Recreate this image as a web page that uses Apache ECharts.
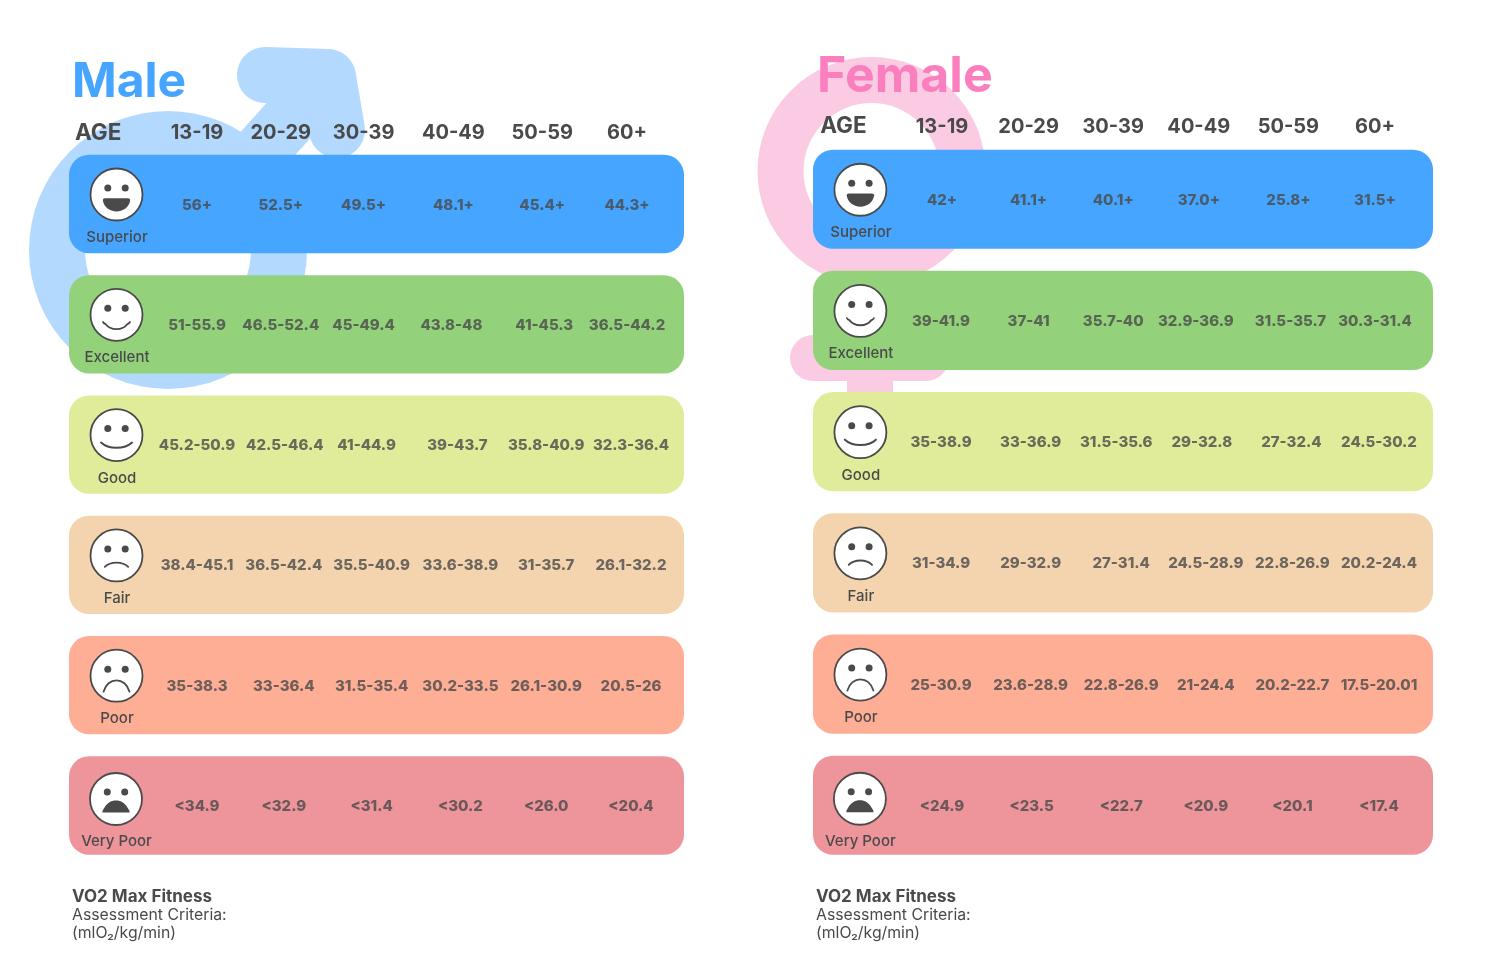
<!DOCTYPE html>
<html>
<head>
<meta charset="utf-8">
<title>VO2 Max Fitness</title>
<style>
  html, body { margin: 0; padding: 0; background: #fff; }
  #chart { width: 1500px; height: 974px; }
</style>
<script src="https://cdn.jsdelivr.net/npm/echarts@6/dist/echarts.min.js"></script>
</head>
<body>
<div id="chart"></div>
<script>
const ages = ["AGE", "13-19", "20-29", "30-39", "40-49", "50-59", "60+"];
const ratings = ["Superior", "Excellent", "Good", "Fair", "Poor", "Very Poor"];
const ratingColors = ["#46a5ff", "#93d27b", "#e0ec99", "#f4d4ae", "#ffae96", "#ee959b"];

const maleSuperior = ["56+", "52.5+", "49.5+", "48.1+", "45.4+", "44.3+"];
const maleExcellent = ["51-55.9", "46.5-52.4", "45-49.4", "43.8-48", "41-45.3", "36.5-44.2"];
const maleGood = ["45.2-50.9", "42.5-46.4", "41-44.9", "39-43.7", "35.8-40.9", "32.3-36.4"];
const maleFair = ["38.4-45.1", "36.5-42.4", "35.5-40.9", "33.6-38.9", "31-35.7", "26.1-32.2"];
const malePoor = ["35-38.3", "33-36.4", "31.5-35.4", "30.2-33.5", "26.1-30.9", "20.5-26"];
const maleVeryPoor = ["<34.9", "<32.9", "<31.4", "<30.2", "<26.0", "<20.4"];

const femaleSuperior = ["42+", "41.1+", "40.1+", "37.0+", "25.8+", "31.5+"];
const femaleExcellent = ["39-41.9", "37-41", "35.7-40", "32.9-36.9", "31.5-35.7", "30.3-31.4"];
const femaleGood = ["35-38.9", "33-36.9", "31.5-35.6", "29-32.8", "27-32.4", "24.5-30.2"];
const femaleFair = ["31-34.9", "29-32.9", "27-31.4", "24.5-28.9", "22.8-26.9", "20.2-24.4"];
const femalePoor = ["25-30.9", "23.6-28.9", "22.8-26.9", "21-24.4", "20.2-22.7", "17.5-20.01"];
const femaleVeryPoor = ["<24.9", "<23.5", "<22.7", "<20.9", "<20.1", "<17.4"];

const INK = "#4a4a4a";
const FONT = "Inter, 'Noto Sans', sans-serif";

// the reference columns are hand placed, so labels get a small px shift from the band centre
const panels = [
  {
    rows: [maleSuperior, maleExcellent, maleGood, maleFair, malePoor, maleVeryPoor],
    grid: { left: 66.8, top: 143.85, width: 607.6, height: 721.8 },
    barLeft: 2.2, barRight: 9.6, faceDx: 6.3, headMargin: 1,
    headShift: [-12, 0, -3, -7, -4, -2, -4],
    cellShift: [
      [0, -3, -7, -4, -2, -4],
      [0, -3, -7, -6, 0, -4],
      [0, 1, -4, 0, 2, 0],
      [0, 0, 1, 3, 2, 0],
      [0, 0, 1, 3, 2, 0],
      [0, 0, 1, 3, 2, 0]
    ]
  },
  {
    rows: [femaleSuperior, femaleExcellent, femaleGood, femaleFair, femalePoor, femaleVeryPoor],
    grid: { left: 809.6, top: 138.65, width: 613.2, height: 727.2 },
    barLeft: 3.4, barRight: 10.2, faceDx: 7, headMargin: 2,
    headShift: [-10, 1, 0, -3, -5, -3, -4],
    cellShift: [
      [1, 0, -3, -5, -3, -4],
      [0, 0, -3, -8, -1, -4],
      [0, 2, 0, -2, 0, 0],
      [0, 2, 5, 2, 1, 0],
      [0, 2, 5, 2, 1, 0],
      [1, 3, 5, 2, 1, 0]
    ]
  }
];

function mouth(row) {
  const stroke = { fill: null, stroke: INK, lineWidth: 1.8, lineCap: "round" };
  const filled = { fill: INK };
  if (row === 0) return { d: "M-13.7 5.5Q-13.7 3.7-11.5 3.7L11.5 3.7Q13.7 3.7 13.7 5.5C13.2 12 7 17 0 17C-7 17-13.2 12-13.7 5.5Z", style: filled };
  if (row === 1) return { d: "M-13.5 7.2Q-12.5 9-11 9.2C-6 16 6 16 11 9.2Q12.5 9 13.5 7.2", style: stroke };
  if (row === 2) return { d: "M-15.5 7.5C-8 14.5 8 14.5 15.5 7.5", style: { ...stroke, lineWidth: 2 } };
  if (row === 3) return { d: "M-11.7 11.5C-6 5.7 6 5.7 11.7 11.5", style: stroke };
  if (row === 4) return { d: "M-13 16C-9 1 9 1 13 16", style: stroke };
  return { d: "M-13.5 13.5Q-14 12.5-13 11C-9 3.5-5 1.5 0 1.5C5 1.5 9 3.5 13 11Q14 12.5 13.5 13.5Z", style: filled };
}

function barItem(panel) {
  return (params, api) => {
    const rect = params.coordSys;
    const center = api.coord([0, api.value(1)]);
    const height = api.size([0, 1])[1] - 22;
    return {
      type: "rect",
      shape: {
        x: rect.x + panel.barLeft,
        y: center[1] - height / 2,
        width: rect.width - panel.barLeft + panel.barRight,
        height,
        r: 20
      },
      style: { fill: ratingColors[api.value(1)] }
    };
  };
}

function faceItem(panel) {
  return (params, api) => {
    const row = api.value(1);
    const center = api.coord([0, row]);
    const low = row === 5;
    const x = center[0] + panel.faceDx - (low ? 0.5 : 0);
    const y = center[1] + (low ? -6.5 : -9.5);
    const eyeY = low ? -7 : -6.5;
    const m = mouth(row);
    return {
      type: "group",
      children: [
        { type: "circle", shape: { cx: x, cy: y, r: 26 }, style: { fill: "#fff", stroke: INK, lineWidth: 1.8 } },
        { type: "circle", shape: { cx: x - 8.7, cy: y + eyeY, r: 3.5 }, style: { fill: INK } },
        { type: "circle", shape: { cx: x + 8.7, cy: y + eyeY, r: 3.5 }, style: { fill: INK } },
        { type: "path", x, y, shape: { d: m.d }, style: m.style },
        {
          type: "text",
          x: x + 0.5,
          y: center[1] + (low ? 36 : 33.5),
          style: { text: ratings[row], fill: INK, font: `500 15px ${FONT}`, align: "center", verticalAlign: "middle" }
        }
      ]
    };
  };
}

function cellData(panel) {
  const cells = [];
  panel.rows.forEach((values, row) => {
    values.forEach((text, col) => {
      cells.push({
        value: [col + 1, row],
        label: { formatter: text, offset: [panel.cellShift[row][col], 1] }
      });
    });
  });
  return cells;
}

const option = {
  animation: false,
  backgroundColor: "#fff",
  textStyle: { fontFamily: FONT },
  title: [
    { text: "Male", left: 67, top: 54, textStyle: { color: "#46a5ff", fontSize: 48, fontWeight: 700, fontFamily: FONT } },
    { text: "Female", left: 812, top: 47, textStyle: { color: "#fb7fbe", fontSize: 50, fontWeight: 700, fontFamily: FONT } }
  ],
  grid: panels.map(p => p.grid),
  xAxis: panels.map((panel, i) => ({
    type: "category",
    gridIndex: i,
    position: "top",
    data: ages,
    axisLine: { show: false },
    axisTick: { show: false },
    splitLine: { show: false },
    axisLabel: {
      interval: 0,
      margin: panel.headMargin - 2,
      hideOverlap: false,
      // pad on the right to pull each header left of its band centre
      formatter: (value, index) => `{c${index}|${value}}`,
      rich: Object.fromEntries(panel.headShift.map((shift, col) => [`c${col}`, {
        color: INK,
        fontSize: col === 0 ? 22.5 : 20,
        lineHeight: 24,
        fontWeight: 700,
        fontFamily: FONT,
        padding: shift < 0 ? [0, -2 * shift, 0, 0] : [0, 0, 0, 2 * shift]
      }]))
    }
  })),
  yAxis: panels.map((_, i) => ({
    type: "category",
    gridIndex: i,
    inverse: true,
    data: ratings,
    show: false
  })),
  series: panels.flatMap((panel, i) => [
    {
      type: "custom",
      xAxisIndex: i,
      yAxisIndex: i,
      z: 2,
      silent: true,
      renderItem: barItem(panel),
      encode: { x: 0, y: 1 },
      data: ratings.map((_, row) => [0, row])
    },
    {
      type: "custom",
      xAxisIndex: i,
      yAxisIndex: i,
      z: 3,
      silent: true,
      renderItem: faceItem(panel),
      encode: { x: 0, y: 1 },
      data: ratings.map((_, row) => [0, row])
    },
    {
      type: "scatter",
      xAxisIndex: i,
      yAxisIndex: i,
      z: 4,
      silent: true,
      symbolSize: 0,
      label: { show: true, position: "inside", color: INK, fontSize: 15, fontWeight: 800, fontFamily: FONT },
      data: cellData(panel)
    }
  ]),
  graphic: [
    // gender symbols behind the rows
    { type: "ring", z: 0, shape: { cx: 168, cy: 250, r: 139, r0: 83 }, style: { fill: "#b3d9ff" } },
    { type: "polyline", z: 0, shape: { points: [[235, 180], [325, 80]] }, style: { stroke: "#b3d9ff", fill: null, lineWidth: 56 } },
    { type: "polyline", z: 0, shape: { points: [[265, 75], [328, 77], [337, 130]] }, style: { stroke: "#b3d9ff", fill: null, lineWidth: 56, lineCap: "round", lineJoin: "round" } },
    { type: "ring", z: 0, shape: { cx: 871.5, cy: 171, r: 114, r0: 68 }, style: { fill: "#fbcbe4" } },
    { type: "polyline", z: 0, shape: { points: [[870, 280], [870, 400]] }, style: { stroke: "#fbcbe4", fill: null, lineWidth: 46 } },
    { type: "polyline", z: 0, shape: { points: [[813, 358], [926, 358]] }, style: { stroke: "#fbcbe4", fill: null, lineWidth: 46, lineCap: "round" } },
    // captions
    ...[72, 816].flatMap(left => [
      { type: "text", z: 5, left, top: 888, style: { text: "VO2 Max Fitness", fill: INK, font: `700 17px ${FONT}` } },
      { type: "text", z: 5, left, top: 907, style: { text: "Assessment Criteria:", fill: INK, font: `400 15.8px ${FONT}` } },
      { type: "text", z: 5, left, top: 925, style: { text: "(mlO₂/kg/min)", fill: INK, font: `400 15.8px ${FONT}` } }
    ])
  ]
};

const chart = echarts.init(document.getElementById("chart"));
chart.setOption(option);
</script>
</body>
</html>
